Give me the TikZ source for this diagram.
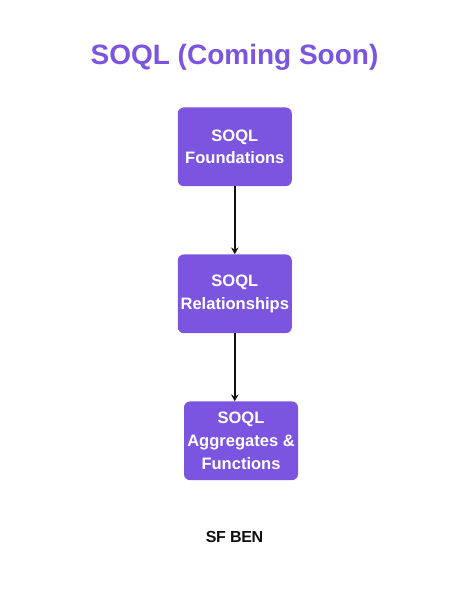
\documentclass[tikz,border=0pt]{standalone}
\usepackage{fontspec}
\setmainfont{Liberation Sans}
\usetikzlibrary{arrows.meta}
\definecolor{soqlpurple}{HTML}{7B55E0}
\definecolor{arrowblack}{HTML}{111111}
\tikzset{
  x=0.75pt,y=-0.75pt,
  flowbox/.style={draw=none,fill=soqlpurple,rounded corners=4.5pt,minimum width=85.5pt,minimum height=59pt,inner sep=0pt,text=white,align=center,font=\bfseries\fontsize{12.4}{17.2}\selectfont},
  flowarrow/.style={draw=arrowblack,line width=1.2pt,-{Stealth[length=5pt,width=5.5pt]}},
  titletext/.style={text=soqlpurple,inner sep=0pt,font=\bfseries\fontsize{21}{25}\selectfont},
  logotext/.style={text=arrowblack,inner sep=0pt,font=\bfseries\fontsize{12}{14}\selectfont}
}
\begin{document}
\begin{tikzpicture}
\useasboundingbox (0,0) rectangle (474,604);
\fill[white] (0,0) rectangle (474,604);
\node[titletext] (title) at (234.5,57) {SOQL (Coming Soon)};
\node[flowbox] (a) at (234.8,146.8) {SOQL\\Foundations};
\node[flowbox] (b) at (234.8,293.8) {SOQL\\Relationships};
\node[flowbox] (c) at (241,440.8) {SOQL\\Aggregates \&\\Functions};
\draw[flowarrow] (a.south) -- (b.north);
\draw[flowarrow] (b.south) -- (b.south |- c.north);
\node[logotext] (logo) at (234.5,537) {\addfontfeature{LetterSpace=-2}SF BEN};
\end{tikzpicture}
\end{document}
